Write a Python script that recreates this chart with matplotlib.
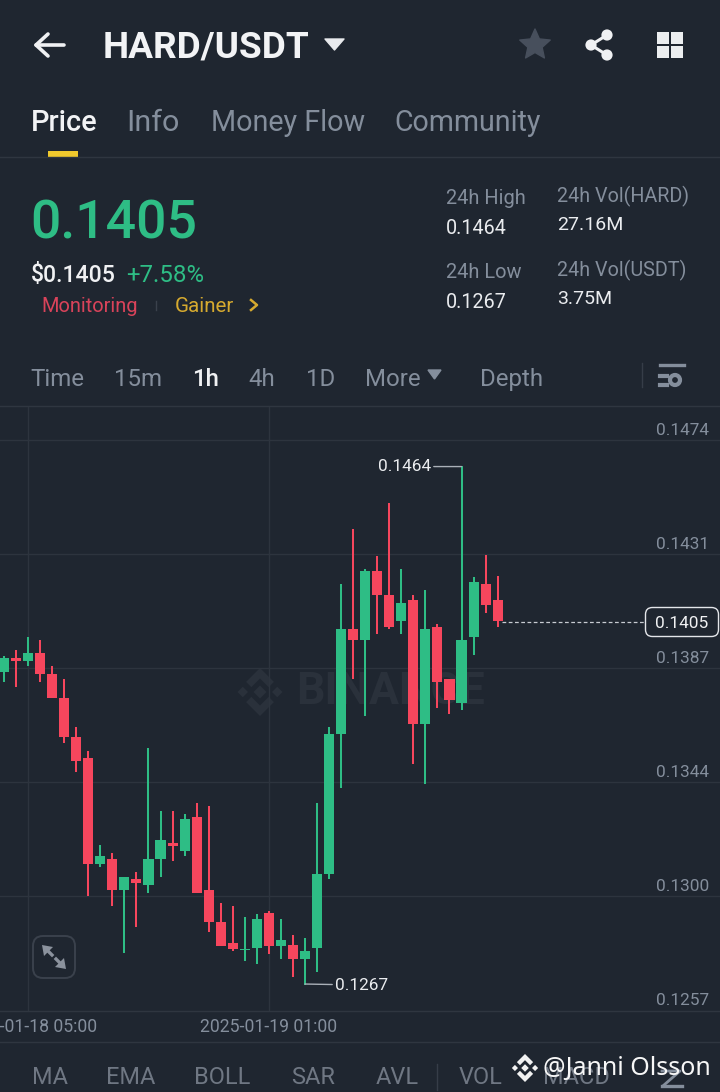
import math
import matplotlib
matplotlib.use("Agg")
import matplotlib.pyplot as plt
from matplotlib.patches import Rectangle, FancyBboxPatch, Polygon, Circle

plt.rcParams['font.family'] = ['Roboto', 'DejaVu Sans']

# ---- data (prices) ----
opens = [.13859,.13910,.13901,.13931,.13850,.13759,.13609,.13529,.13128,.13147,.13028,.13069,.13047,.13147,.13208,.13178,
         .13307,.13028,.12907,.12826,.12798,.12808,.12939,.12816,.12817,.12766,.12808,.13088,.13621,.14020,.13980,.14241,
         .14152,.14051,.14131,.13660,.14030,.13830,.13740,.13992,.14192,.14131]
closes = [.13910,.13901,.13930,.13850,.13759,.13609,.13519,.13128,.13157,.13028,.13077,.13056,.13147,.13218,.13197,.13298,
          .13018,.12907,.12816,.12805,.12805,.12916,.12816,.12838,.12766,.12797,.13088,.13621,.14020,.13980,.14241,.14152,
          .14030,.14121,.13660,.14020,.13820,.13751,.13980,.14201,.14112,.14051]
highs = [.13919,.13942,.13992,.13980,.13881,.13830,.13650,.13558,.13198,.13168,.13077,.13098,.13569,.13329,.13329,.13317,
         .13358,.13349,.12977,.12967,.12926,.12937,.12948,.12916,.12857,.12846,.13358,.13650,.14192,.14402,.14250,.14301,
         .14502,.14251,.14150,.14170,.14041,.13830,.14643,.14221,.14303,.14223]
lows = [.13821,.13800,.13881,.13819,.13759,.13589,.13478,.13006,.13117,.12967,.12787,.12888,.13018,.13076,.13138,.13159,
        .13018,.12867,.12816,.12797,.12757,.12746,.12784,.12766,.12696,.12666,.12715,.13069,.13417,.13830,.13690,.14001,
        .14022,.14001,.13509,.13430,.13720,.13699,.13712,.13921,.14081,.14029]
price_ticks = [0.14740, 0.14306, 0.13872, 0.13438, 0.13004, 0.12570]
time_idx = [2, 22]
time_labels = ["2025-01-18 05:00", "2025-01-19 01:00"]
high_idx, high_price = 38, 0.1464
low_idx, low_price = 25, 0.1267
last_price = 0.1405
tabs = ["Price", "Info", "Money Flow", "Community"]

BG = "#1f2630"; GREEN = "#2ebd85"; RED = "#f6465d"; GREY = "#848e9c"; LINE = "#2f3640"; GRID = "#2d343e"; WHITE = "#eaecef"
WM = "#2a313b"

fig = plt.figure(figsize=(7.2, 10.92), dpi=100, facecolor=BG)

# chart axes: price scale, candle index
Y_TOP, Y_BOT = 406, 1011
ax = fig.add_axes([0, (1092 - Y_BOT) / 1092, 1, (Y_BOT - Y_TOP) / 1092], facecolor=BG)
per_px = 0.00434 / 114.0
ax.set_ylim(0.1474 - (Y_BOT - 440.3) * per_px, 0.1474 + (440.3 - Y_TOP) * per_px)
ax.set_xlim((0 - 4) / 12.04, (720 - 4) / 12.04)
for s in ax.spines.values():
    s.set_visible(False)
ax.set_xticks([]); ax.set_yticks([])
for i in time_idx:
    ax.axvline(i, color=GRID, lw=1, zorder=1)
for p in price_ticks[:-1]:
    ax.axhline(p, color=GRID, lw=1, zorder=1)
trans_y = ax.get_yaxis_transform()
for p in price_ticks:
    ax.annotate(f"{p:.4f}", xy=(1, p), xycoords=trans_y, xytext=(-11, 9.5), textcoords="offset pixels",
                ha="right", va="center", color=GREY, fontsize=12.4, zorder=5)

# watermark
ax.text(0.543, 0.527, "BINANCE", transform=ax.transAxes, ha="center", va="center", fontsize=32, fontweight="bold",
        color=WM, zorder=2)

# candles
for i, (o, c, h, l) in enumerate(zip(opens, closes, highs, lows)):
    col = GREEN if c >= o else RED
    ax.plot([i, i], [l, h], color=col, lw=1.45, solid_capstyle="butt", zorder=3)
    ax.add_patch(Rectangle((i - 0.42, min(o, c)), 0.84, abs(c - o), facecolor=col, edgecolor="none", zorder=4))

# high/low markers
ax.annotate(f"{high_price:.4f}", xy=(high_idx, high_price), xytext=(431, 0), xycoords="data",
            textcoords=("figure pixels", "offset pixels"), ha="right", va="center", color=WHITE, fontsize=12.4,
            arrowprops=dict(arrowstyle="-", color="#aab0b8", lw=1, shrinkA=0, shrinkB=0), zorder=6)
ax.annotate(f"{low_price:.4f}", xy=(low_idx, low_price), xytext=(335, -1), xycoords="data",
            textcoords=("figure pixels", "offset pixels"), ha="left", va="center", color=WHITE, fontsize=12.4,
            arrowprops=dict(arrowstyle="-", color="#aab0b8", lw=1, shrinkA=0, shrinkB=0), zorder=6)

# last price dashed line
ax.plot([41.4, 53.2], [last_price, last_price], color="#c8ccd2", lw=0.9, ls=(0, (3, 2)), zorder=5)

# overlay for app chrome (pixel coordinates)
ov = fig.add_axes([0, 0, 1, 1], facecolor="none")
ov.set_xlim(0, 720); ov.set_ylim(1092, 0); ov.axis("off")

def T(x, y, s, px, color=GREY, ha="left", weight="normal", va="center", **kw):
    return ov.text(x, y, s, fontsize=px * 0.72, color=color, ha=ha, va=va, fontweight=weight, **kw)

def L(xs, ys, color=LINE, lw=1.0, **kw):
    ov.plot(xs, ys, color=color, lw=lw, **kw)

def logo(axes, cx, cy, r, color, zorder=2):
    def piece(pts):
        axes.add_patch(Polygon([(cx + a * r, cy + b * r) for a, b in pts], closed=True, fc=color, ec="none", zorder=zorder))
    piece([(0, -.27), (.27, 0), (0, .27), (-.27, 0)])
    piece([(.72, -.22), (.94, 0), (.72, .22), (.5, 0)])
    piece([(-.72, -.22), (-.5, 0), (-.72, .22), (-.94, 0)])
    piece([(0, -1), (.58, -.42), (.36, -.2), (0, -.56), (-.36, -.2), (-.58, -.42)])
    piece([(0, 1), (.58, .42), (.36, .2), (0, .56), (-.36, .2), (-.58, .42)])

# header
L([36, 64], [45, 45], "#f0f1f3", 2.6, solid_capstyle="round")
L([48, 36, 48], [34, 45, 56], "#f0f1f3", 2.6, solid_capstyle="round", solid_joinstyle="round")
T(103, 48, "HARD/USDT", 37, "#f2f3f5", weight="bold")
ov.add_patch(Polygon([(325, 39), (344, 39), (334.5, 50)], closed=True, fc="#e8eaed", ec="#e8eaed", lw=1, joinstyle="round"))
star = []
for k in range(10):
    r = 16 if k % 2 == 0 else 7.5
    a = -math.pi / 2 + k * math.pi / 5
    star.append((535 + r * math.cos(a), 45 + r * math.sin(a)))
ov.add_patch(Polygon(star, closed=True, fc="#474f5c", ec="#474f5c", lw=1, joinstyle="round"))
for cx, cy in [(607, 35), (591, 45), (607, 55)]:
    ov.add_patch(Circle((cx, cy), 5.6, fc="#f0f1f3", ec="none"))
L([607, 591, 607], [35, 45, 55], "#f0f1f3", 2.2)
for gx, gy in [(657, 32), (671, 32), (657, 46), (671, 46)]:
    ov.add_patch(Rectangle((gx, gy), 12, 12, fc="#eceef0", ec="none"))

# tabs
for x, t, c, w, sz in zip([31, 126, 211, 394], tabs, ["#f2f3f5", GREY, GREY, GREY], ["medium", "normal", "normal", "normal"],
                          [29, 30.5, 28.7, 28.6]):
    T(x, 131, t, sz, c, weight=w, va="baseline")
ov.add_patch(Rectangle((48, 151), 30, 6, fc="#f0c92d", ec="none"))
L([0, 720], [157, 157])

# price block
T(30, 224, "0.1405", 53.5, GREEN, weight="medium")
T(31, 275, "$0.1405", 23, "#f0f1f3", weight="medium")
T(126, 275, "+7.58%", 24, GREEN)
T(41, 307, "Monitoring", 20, "#d9435a")
L([156, 156], [301, 310], "#3a414c", 1)
T(175, 307, "Gainer", 20.5, "#d6aa2f")
L([251, 257, 251], [300, 305, 310], "#d6aa2f", 1.8)
T(446, 199, "24h High", 20, GREY)
T(446, 229, "0.1464", 19.8, WHITE)
T(446, 273, "24h Low", 20, GREY)
T(446, 303, "0.1267", 19.8, WHITE)
T(557, 196, "24h Vol(HARD)", 19.8, GREY)
T(557, 225, "27.16M", 19.5, WHITE)
T(557, 270, "24h Vol(USDT)", 19.8, GREY)
T(557, 299, "3.75M", 19.5, WHITE)

# interval row
for x, t, c in zip([30, 114, 192, 248, 306, 365, 480],
                   ["Time", "15m", "1h", "4h", "1D", "More", "Depth"],
                   [GREY, GREY, "#f0f1f3", GREY, GREY, GREY, GREY]):
    T(x, 386, t, 24, c, weight="medium" if t == "1h" else "normal", va="baseline")
ov.add_patch(Polygon([(428, 370), (441, 370), (434.5, 379)], closed=True, fc=GREY, ec=GREY, lw=1))
L([642, 642], [363, 387], "#363d48", 1)
L([660, 684], [365, 365], GREY, 2.4)
L([660, 667], [376, 376], GREY, 3)
L([660, 667], [385, 385], GREY, 3)
ov.add_patch(Circle((675, 380), 5, fc="none", ec=GREY, lw=3))
L([0, 720], [406, 406])

# expand button
ov.add_patch(FancyBboxPatch((33, 936), 42, 42, boxstyle="round,pad=0,rounding_size=10", fc=BG, ec="#3a414c", lw=1.4, zorder=7))
ov.add_patch(Polygon([(42, 945), (53, 947), (44, 956)], closed=True, fc="#8b929d", ec="none", zorder=8))
ov.add_patch(Polygon([(66, 969), (55, 967), (64, 958)], closed=True, fc="#8b929d", ec="none", zorder=8))
L([46, 52], [949, 955], "#8b929d", 2.4, zorder=8)
L([62, 56], [965, 959], "#8b929d", 2.4, zorder=8)

# last price box
ov.add_patch(FancyBboxPatch((645.5, 607.5), 73, 29, boxstyle="round,pad=0,rounding_size=7", fc=BG, ec="#e4e6ea", lw=1))
T(682, 624, f"{last_price:.4f}", 17.3, "#f0f1f3", ha="center")

# time axis
L([0, 720], [1011, 1011])
L([0, 720], [1042, 1042])
for i, t in zip(time_idx, time_labels):
    px_x = ax.transData.transform((i, last_price))[0]
    T(px_x, 1027, t, 17.6, GREY, ha="center")

# bottom indicator row
for x, t in zip([32, 106, 194, 291, 376, 459, 543], ["MA", "EMA", "BOLL", "SAR", "AVL", "VOL", "MACD"]):
    T(x, 1077, t, 23.5, "#6f7783")
L([437, 437], [1064, 1090], "#363d48", 1)
L([662, 682], [1086, 1086], GREY, 2.4)
L([662, 680, 664], [1071, 1071, 1085], GREY, 2)

# corner credit
logo(ov, 525, 1068, 14, "#f2f2f2", zorder=6)
T(543, 1069, "@Janni Olsson", 25, "#f7f7f7", family=["Noto Sans", "DejaVu Sans"], zorder=6)

# watermark logo, behind the transparent chart axes
wm_ax = fig.add_axes([0, 0, 1, 1], facecolor="none")
wm_ax.set_xlim(0, 720); wm_ax.set_ylim(1092, 0); wm_ax.axis("off")
logo(wm_ax, 260, 692, 24, WM)
ax.patch.set_alpha(0)
wm_ax.set_zorder(-1); ax.set_zorder(0); ov.set_zorder(1)

fig.savefig("out.png", dpi=100, facecolor=BG)
